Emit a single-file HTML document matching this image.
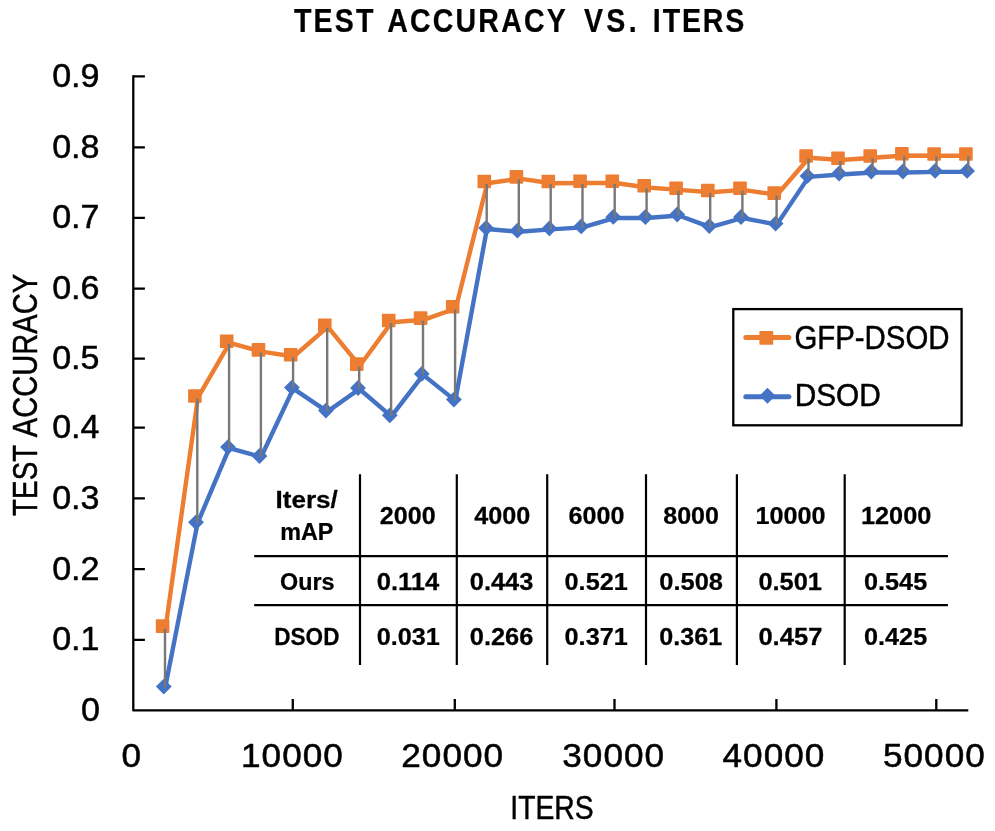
<!DOCTYPE html>
<html><head><meta charset="utf-8"><title>Test accuracy vs. iters</title>
<style>
html,body{margin:0;padding:0;background:#fff;overflow:hidden;}
svg{display:block;font-family:"Liberation Sans",sans-serif;fill:#000;}
text{stroke:#000;stroke-width:0.5px;stroke-linejoin:round;}
text[font-weight=bold]{stroke-width:0.25px;}
</style></head><body>
<svg width="995" height="831" viewBox="0 0 995 831">
<rect width="995" height="831" fill="#fff"/>
<path d="M133.3 75.25V710.4H968.3" fill="none" stroke="#000" stroke-width="2.3" stroke-linejoin="round"/>
<path d="M133.3 639.80h11.6M133.3 569.10h11.6M133.3 498.30h11.6M133.3 427.70h11.6M133.3 358.60h11.6M133.3 288.70h11.6M133.3 217.80h11.6M133.3 147.30h11.6M133.3 76.40h11.6M292.8 710.4v-11.4M454.8 710.4v-11.4M614.5 710.4v-11.4M776.4 710.4v-11.4M936.3 710.4v-11.4" fill="none" stroke="#000" stroke-width="2.3"/>
<polyline points="165.2,687.6 197.5,523.3 229.3,448.1 261.1,457.0 293.3,388.6 327.4,411.6 359.4,389.0 391.3,416.3 423.2,374.9 455.3,400.6 486.9,229.0 519.0,231.7 550.9,229.4 582.7,227.4 614.9,217.9 646.8,218.0 678.7,215.5 710.4,227.1 742.6,218.0 776.8,224.6 808.7,176.9 840.6,174.5 872.8,172.5 904.5,172.5 936.7,171.9 968.5,171.9" fill="none" stroke="#4472C4" stroke-width="4.4" stroke-linejoin="round" stroke-linecap="round"/>
<polyline points="165.6,627.8 197.9,397.7 229.7,342.9 261.5,351.6 293.7,356.5 327.8,326.9 359.8,365.8 391.7,322.2 423.6,319.8 455.7,308.5 487.3,183.2 519.4,178.6 551.3,183.2 583.1,183.0 615.3,183.0 647.2,187.5 679.1,189.9 710.8,192.2 743.0,189.9 777.2,194.8 809.1,157.7 841.0,160.0 873.2,157.7 904.9,155.5 937.1,155.7 968.9,155.7" fill="none" stroke="#ED7D31" stroke-width="4.4" stroke-linejoin="round" stroke-linecap="round"/>
<path d="M163.8 678.7l7.9 7.9l-7.9 7.9l-7.9 -7.9z" fill="#4472C4"/>
<path d="M196.0 514.4l7.9 7.9l-7.9 7.9l-7.9 -7.9z" fill="#4472C4"/>
<path d="M228.0 439.2l7.9 7.9l-7.9 7.9l-7.9 -7.9z" fill="#4472C4"/>
<path d="M259.5 448.1l7.9 7.9l-7.9 7.9l-7.9 -7.9z" fill="#4472C4"/>
<path d="M291.9 379.7l7.9 7.9l-7.9 7.9l-7.9 -7.9z" fill="#4472C4"/>
<path d="M325.9 402.7l7.9 7.9l-7.9 7.9l-7.9 -7.9z" fill="#4472C4"/>
<path d="M358.0 380.1l7.9 7.9l-7.9 7.9l-7.9 -7.9z" fill="#4472C4"/>
<path d="M389.8 407.4l7.9 7.9l-7.9 7.9l-7.9 -7.9z" fill="#4472C4"/>
<path d="M421.8 366.0l7.9 7.9l-7.9 7.9l-7.9 -7.9z" fill="#4472C4"/>
<path d="M453.9 391.7l7.9 7.9l-7.9 7.9l-7.9 -7.9z" fill="#4472C4"/>
<path d="M486.1 220.1l7.9 7.9l-7.9 7.9l-7.9 -7.9z" fill="#4472C4"/>
<path d="M517.4 222.8l7.9 7.9l-7.9 7.9l-7.9 -7.9z" fill="#4472C4"/>
<path d="M549.4 220.5l7.9 7.9l-7.9 7.9l-7.9 -7.9z" fill="#4472C4"/>
<path d="M581.2 218.5l7.9 7.9l-7.9 7.9l-7.9 -7.9z" fill="#4472C4"/>
<path d="M613.3 209.0l7.9 7.9l-7.9 7.9l-7.9 -7.9z" fill="#4472C4"/>
<path d="M645.4 209.1l7.9 7.9l-7.9 7.9l-7.9 -7.9z" fill="#4472C4"/>
<path d="M677.2 206.6l7.9 7.9l-7.9 7.9l-7.9 -7.9z" fill="#4472C4"/>
<path d="M709.3 218.2l7.9 7.9l-7.9 7.9l-7.9 -7.9z" fill="#4472C4"/>
<path d="M741.0 209.1l7.9 7.9l-7.9 7.9l-7.9 -7.9z" fill="#4472C4"/>
<path d="M775.6 215.7l7.9 7.9l-7.9 7.9l-7.9 -7.9z" fill="#4472C4"/>
<path d="M807.5 168.0l7.9 7.9l-7.9 7.9l-7.9 -7.9z" fill="#4472C4"/>
<path d="M839.1 165.6l7.9 7.9l-7.9 7.9l-7.9 -7.9z" fill="#4472C4"/>
<path d="M871.3 163.6l7.9 7.9l-7.9 7.9l-7.9 -7.9z" fill="#4472C4"/>
<path d="M902.9 163.6l7.9 7.9l-7.9 7.9l-7.9 -7.9z" fill="#4472C4"/>
<path d="M935.1 163.0l7.9 7.9l-7.9 7.9l-7.9 -7.9z" fill="#4472C4"/>
<path d="M967.1 163.0l7.9 7.9l-7.9 7.9l-7.9 -7.9z" fill="#4472C4"/>
<rect x="155.8" y="619.3" width="13.6" height="13.6" rx="0.8" fill="#ED7D31"/>
<rect x="188.1" y="389.2" width="13.6" height="13.6" rx="0.8" fill="#ED7D31"/>
<rect x="219.9" y="334.4" width="13.6" height="13.6" rx="0.8" fill="#ED7D31"/>
<rect x="251.7" y="343.1" width="13.6" height="13.6" rx="0.8" fill="#ED7D31"/>
<rect x="283.9" y="348.0" width="13.6" height="13.6" rx="0.8" fill="#ED7D31"/>
<rect x="318.0" y="318.4" width="13.6" height="13.6" rx="0.8" fill="#ED7D31"/>
<rect x="350.0" y="357.3" width="13.6" height="13.6" rx="0.8" fill="#ED7D31"/>
<rect x="381.9" y="313.7" width="13.6" height="13.6" rx="0.8" fill="#ED7D31"/>
<rect x="413.8" y="311.3" width="13.6" height="13.6" rx="0.8" fill="#ED7D31"/>
<rect x="445.9" y="300.0" width="13.6" height="13.6" rx="0.8" fill="#ED7D31"/>
<rect x="477.5" y="174.7" width="13.6" height="13.6" rx="0.8" fill="#ED7D31"/>
<rect x="509.6" y="170.1" width="13.6" height="13.6" rx="0.8" fill="#ED7D31"/>
<rect x="541.5" y="174.7" width="13.6" height="13.6" rx="0.8" fill="#ED7D31"/>
<rect x="573.3" y="174.5" width="13.6" height="13.6" rx="0.8" fill="#ED7D31"/>
<rect x="605.5" y="174.5" width="13.6" height="13.6" rx="0.8" fill="#ED7D31"/>
<rect x="637.4" y="179.0" width="13.6" height="13.6" rx="0.8" fill="#ED7D31"/>
<rect x="669.3" y="181.4" width="13.6" height="13.6" rx="0.8" fill="#ED7D31"/>
<rect x="701.0" y="183.7" width="13.6" height="13.6" rx="0.8" fill="#ED7D31"/>
<rect x="733.2" y="181.4" width="13.6" height="13.6" rx="0.8" fill="#ED7D31"/>
<rect x="767.4" y="186.3" width="13.6" height="13.6" rx="0.8" fill="#ED7D31"/>
<rect x="799.3" y="149.2" width="13.6" height="13.6" rx="0.8" fill="#ED7D31"/>
<rect x="831.2" y="151.5" width="13.6" height="13.6" rx="0.8" fill="#ED7D31"/>
<rect x="863.4" y="149.2" width="13.6" height="13.6" rx="0.8" fill="#ED7D31"/>
<rect x="895.1" y="147.0" width="13.6" height="13.6" rx="0.8" fill="#ED7D31"/>
<rect x="927.3" y="147.2" width="13.6" height="13.6" rx="0.8" fill="#ED7D31"/>
<rect x="959.1" y="147.2" width="13.6" height="13.6" rx="0.8" fill="#ED7D31"/>
<path d="M165.0 628.7V687.4M197.3 398.6V523.1M229.1 343.8V447.9M260.9 352.5V456.8M293.1 357.4V388.4M327.2 327.8V411.4M359.2 366.7V388.8M391.1 323.1V416.1M423.0 320.7V374.7M455.1 309.4V400.4M486.7 184.1V228.8M518.8 179.5V231.5M550.7 184.1V229.2M582.5 183.9V227.2M614.7 183.9V217.7M646.6 188.4V217.8M678.5 190.8V215.3M710.2 193.1V226.9M742.4 190.8V217.8M776.6 195.7V224.4M808.5 158.6V176.7M840.4 160.9V174.3M872.6 158.6V172.3M904.3 156.4V172.3M936.5 156.6V171.7M968.3 156.6V171.7" stroke="#787878" stroke-width="2.4" fill="none"/>
<text transform="translate(294.01 31.90) scale(0.85 1)" font-size="33.60" font-weight="bold" letter-spacing="2.55">TEST</text>
<text transform="translate(387.29 31.90) scale(0.85 1)" font-size="33.60" font-weight="bold" letter-spacing="2.53">ACCURACY</text>
<text transform="translate(583.89 31.90) scale(0.85 1)" font-size="33.60" font-weight="bold" letter-spacing="3.93">VS.</text>
<text transform="translate(652.87 31.90) scale(0.85 1)" font-size="33.60" font-weight="bold" letter-spacing="2.19">ITERS</text>
<text transform="translate(52.14 650.47) scale(1.0266 1)" font-size="33.22">0.1</text>
<text transform="translate(52.14 579.77) scale(1.0266 1)" font-size="33.22">0.2</text>
<text transform="translate(52.14 508.97) scale(1.0266 1)" font-size="33.22">0.3</text>
<text transform="translate(52.14 438.37) scale(1.0266 1)" font-size="33.22">0.4</text>
<text transform="translate(52.14 369.27) scale(1.0266 1)" font-size="33.22">0.5</text>
<text transform="translate(52.14 299.37) scale(1.0266 1)" font-size="33.22">0.6</text>
<text transform="translate(52.14 228.47) scale(1.0266 1)" font-size="33.22">0.7</text>
<text transform="translate(52.14 157.97) scale(1.0266 1)" font-size="33.22">0.8</text>
<text transform="translate(52.14 87.07) scale(1.0266 1)" font-size="33.22">0.9</text>
<text transform="translate(81.05 721.17) scale(1.0266 1)" font-size="33.22">0</text>
<text transform="translate(121.59 766.67) scale(1.0600 1)" font-size="33.22" letter-spacing="0.94">0</text>
<text transform="translate(241.00 766.67) scale(1.0600 1)" font-size="33.22" letter-spacing="0.94">10000</text>
<text transform="translate(401.24 766.67) scale(1.0600 1)" font-size="33.22" letter-spacing="0.94">20000</text>
<text transform="translate(562.26 766.67) scale(1.0600 1)" font-size="33.22" letter-spacing="0.94">30000</text>
<text transform="translate(722.52 766.67) scale(1.0600 1)" font-size="33.22" letter-spacing="0.94">40000</text>
<text transform="translate(882.92 766.67) scale(1.0600 1)" font-size="33.22" letter-spacing="0.94">50000</text>
<text transform="translate(510.28 818.97) scale(0.8443 1)" font-size="33.50">ITERS</text>
<text transform="translate(36.80 515.30) rotate(-90) translate(-0.63 0) scale(0.8147 1)" font-size="34.18">TEST</text>
<text transform="translate(36.80 437.20) rotate(-90) translate(-0.07 0) scale(0.8524 1)" font-size="34.18">ACCURACY</text>
<rect x="733.3" y="309.1" width="228.3" height="116.2" fill="#fff" stroke="#000" stroke-width="2.3"/>
<path d="M745.8 337.5H788.9" stroke="#ED7D31" stroke-width="5" stroke-linecap="round"/>
<rect x="759.4" y="330.9" width="13.8" height="13.9" rx="0.8" fill="#ED7D31"/>
<path d="M745.8 396.7H788.9" stroke="#4472C4" stroke-width="5" stroke-linecap="round"/>
<path d="M767.45 387.8l8 8l-8 8l-8 -8z" fill="#4472C4"/>
<text transform="translate(794.43 348.97) scale(0.8771 1)" font-size="33.50">GFP-DSOD</text>
<text transform="translate(794.64 405.68) scale(0.9264 1)" font-size="32.23">DSOD</text>
<path d="M360.0 474.2V665.1M456.8 474.2V665.1M547.2 474.2V665.1M646.0 474.2V665.1M736.9 474.2V665.1M844.7 474.2V665.1M254.2 556.1H947.9M254.2 605.1H947.9" stroke="#000" stroke-width="2.2" fill="none"/>
<text transform="translate(379.82 524.46) scale(1.0324 1)" font-size="24.31" font-weight="bold">2000</text>
<text transform="translate(474.22 524.46) scale(1.0362 1)" font-size="24.31" font-weight="bold">4000</text>
<text transform="translate(568.46 524.46) scale(1.0336 1)" font-size="24.31" font-weight="bold">6000</text>
<text transform="translate(663.29 524.46) scale(1.0293 1)" font-size="24.31" font-weight="bold">8000</text>
<text transform="translate(755.52 524.46) scale(1.0370 1)" font-size="24.31" font-weight="bold">10000</text>
<text transform="translate(860.92 524.46) scale(1.0416 1)" font-size="24.31" font-weight="bold">12000</text>
<text transform="translate(376.68 590.36) scale(1.0523 1)" font-size="24.31" font-weight="bold">0.114</text>
<text transform="translate(469.78 590.30) scale(1.0455 1)" font-size="24.31" font-weight="bold">0.443</text>
<text transform="translate(564.59 590.36) scale(1.0389 1)" font-size="24.31" font-weight="bold">0.521</text>
<text transform="translate(659.28 590.36) scale(1.0467 1)" font-size="24.31" font-weight="bold">0.508</text>
<text transform="translate(758.38 590.36) scale(1.0457 1)" font-size="24.31" font-weight="bold">0.501</text>
<text transform="translate(864.09 590.36) scale(1.0372 1)" font-size="24.31" font-weight="bold">0.545</text>
<text transform="translate(376.69 644.70) scale(1.0372 1)" font-size="24.31" font-weight="bold">0.031</text>
<text transform="translate(469.78 644.76) scale(1.0455 1)" font-size="24.31" font-weight="bold">0.266</text>
<text transform="translate(564.59 644.70) scale(1.0389 1)" font-size="24.31" font-weight="bold">0.371</text>
<text transform="translate(659.29 644.70) scale(1.0338 1)" font-size="24.31" font-weight="bold">0.361</text>
<text transform="translate(758.38 644.76) scale(1.0521 1)" font-size="24.31" font-weight="bold">0.457</text>
<text transform="translate(864.09 644.76) scale(1.0372 1)" font-size="24.31" font-weight="bold">0.425</text>
<text transform="translate(275.54 507.71) scale(1.0726 1)" font-size="24.31" font-weight="bold">Iters/</text>
<text transform="translate(280.18 540.30) scale(0.9623 1)" font-size="24.31" font-weight="bold">mAP</text>
<text transform="translate(279.97 590.36) scale(0.9605 1)" font-size="24.31" font-weight="bold">Ours</text>
<text transform="translate(274.28 644.76) scale(0.9277 1)" font-size="24.31" font-weight="bold">DSOD</text>
</svg>
</body></html>
